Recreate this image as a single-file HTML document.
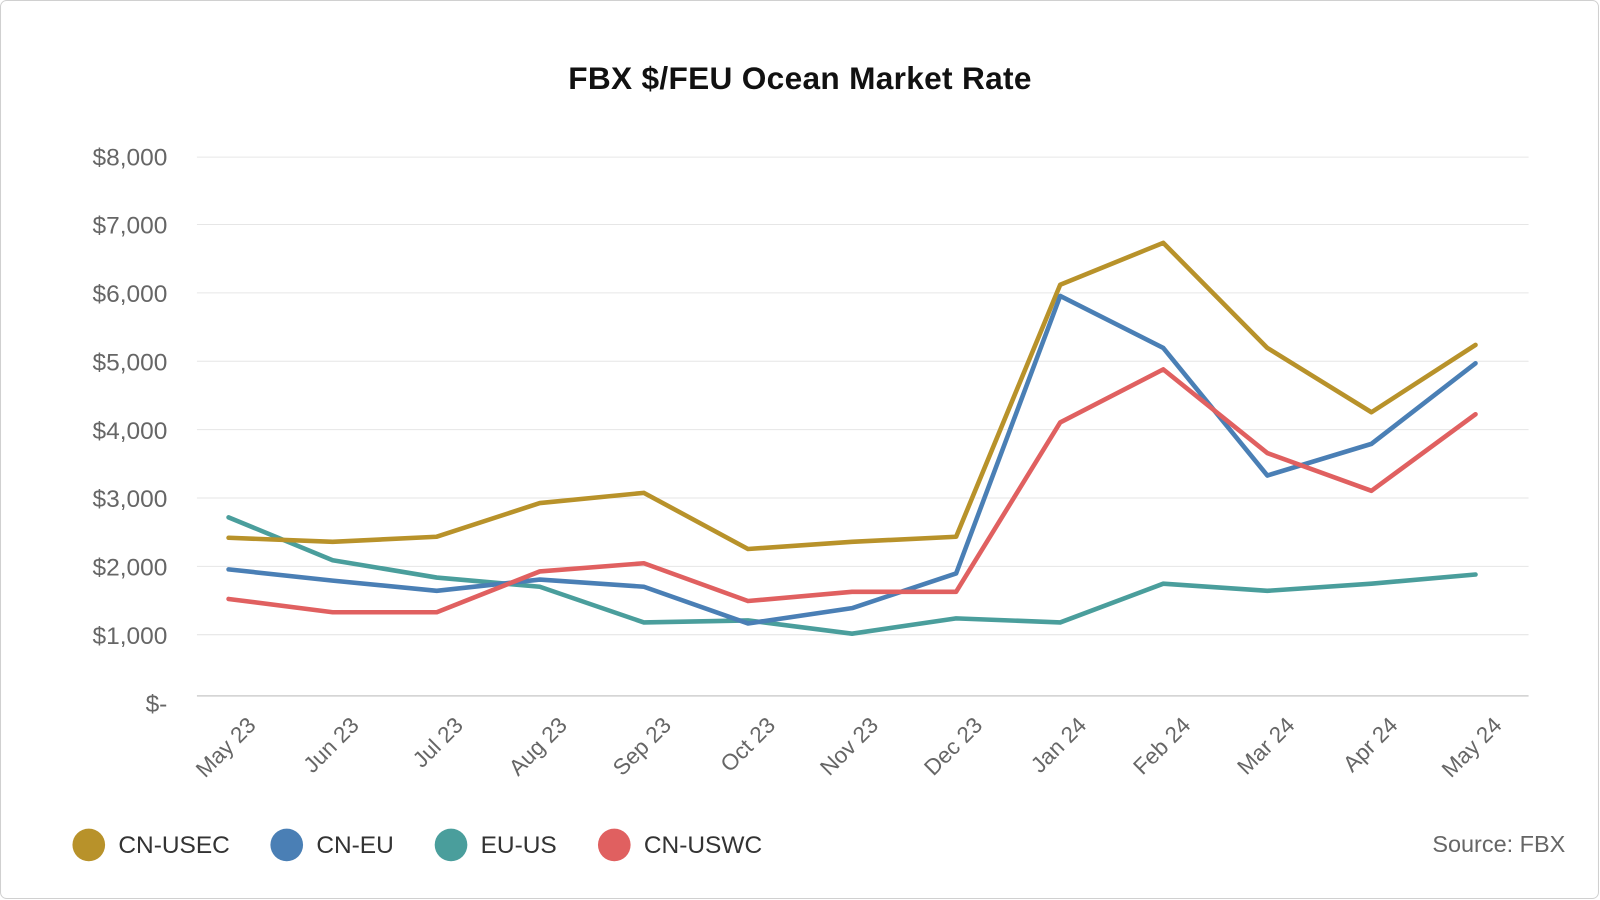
<!DOCTYPE html>
<html><head><meta charset="utf-8"><style>
html,body{margin:0;padding:0;background:#fff;width:1600px;height:900px;overflow:hidden}
svg{display:block}
text{font-family:"Liberation Sans",sans-serif}
</style></head><body>
<svg width="1600" height="900" viewBox="0 0 1568 882" preserveAspectRatio="none">
<rect x="0.5" y="0.5" width="1566" height="880" rx="6" fill="#fff" stroke="#d0d0d0"/>
<text x="784" y="87" text-anchor="middle" font-size="31" font-weight="bold" fill="#111" letter-spacing="0.3">FBX $/FEU Ocean Market Rate</text>
<g stroke="#e6e6e6" stroke-width="1">
<line x1="193" y1="154" x2="1498" y2="154"/><line x1="193" y1="220" x2="1498" y2="220"/>
<line x1="193" y1="287" x2="1498" y2="287"/><line x1="193" y1="354" x2="1498" y2="354"/>
<line x1="193" y1="421" x2="1498" y2="421"/><line x1="193" y1="488" x2="1498" y2="488"/>
<line x1="193" y1="555" x2="1498" y2="555"/><line x1="193" y1="622" x2="1498" y2="622"/>
</g>
<line x1="193" y1="682" x2="1498" y2="682" stroke="#cfcfcf" stroke-width="1.5"/>
<g font-size="24" fill="#666" text-anchor="end">
<text x="164" y="162">$8,000</text><text x="164" y="229">$7,000</text><text x="164" y="296">$6,000</text>
<text x="164" y="363">$5,000</text><text x="164" y="430">$4,000</text><text x="164" y="497">$3,000</text>
<text x="164" y="564">$2,000</text><text x="164" y="631">$1,000</text><text x="164" y="698">$-</text>
</g>
<g font-size="22" fill="#666" text-anchor="end">
<text transform="translate(252,712) rotate(-45)">May 23</text>
<text transform="translate(353,712) rotate(-45)">Jun 23</text>
<text transform="translate(455,712) rotate(-45)">Jul 23</text>
<text transform="translate(557,712) rotate(-45)">Aug 23</text>
<text transform="translate(659,712) rotate(-45)">Sep 23</text>
<text transform="translate(761,712) rotate(-45)">Oct 23</text>
<text transform="translate(862,712) rotate(-45)">Nov 23</text>
<text transform="translate(964,712) rotate(-45)">Dec 23</text>
<text transform="translate(1066,712) rotate(-45)">Jan 24</text>
<text transform="translate(1168,712) rotate(-45)">Feb 24</text>
<text transform="translate(1270,712) rotate(-45)">Mar 24</text>
<text transform="translate(1371,712) rotate(-45)">Apr 24</text>
<text transform="translate(1473,712) rotate(-45)">May 24</text>
</g>
<g fill="none" stroke-width="4.5" stroke-linejoin="round" stroke-linecap="round">
<polyline stroke="#4a9e9c" points="224,507 326,549 428,566 529,575 631,610 733,608 835,621 937,606 1039,610 1140,572 1242,579 1344,572 1446,563"/>
<polyline stroke="#b8922a" points="224,527 326,531 428,526 529,493 631,483 733,538 835,531 937,526 1039,279 1140,238 1242,341 1344,404 1446,338"/>
<polyline stroke="#4a7fb5" points="224,558 326,569 428,579 529,568 631,575 733,611 835,596 937,562 1039,290 1140,341 1242,466 1344,435 1446,356"/>
<polyline stroke="#e06060" points="224,587 326,600 428,600 529,560 631,552 733,589 835,580 937,580 1039,414 1140,362 1242,444 1344,481 1446,406"/>
</g>
<g font-size="24" fill="#333">
<circle cx="87" cy="828" r="16" fill="#b8922a"/><text x="116" y="836">CN-USEC</text>
<circle cx="281" cy="828" r="16" fill="#4a7fb5"/><text x="310" y="836">CN-EU</text>
<circle cx="442" cy="828" r="16" fill="#4a9e9c"/><text x="471" y="836">EU-US</text>
<circle cx="602" cy="828" r="16" fill="#e06060"/><text x="631" y="836">CN-USWC</text>
</g>
<text x="1534" y="835" text-anchor="end" font-size="23" fill="#666">Source: FBX</text>
</svg>
</body></html>
